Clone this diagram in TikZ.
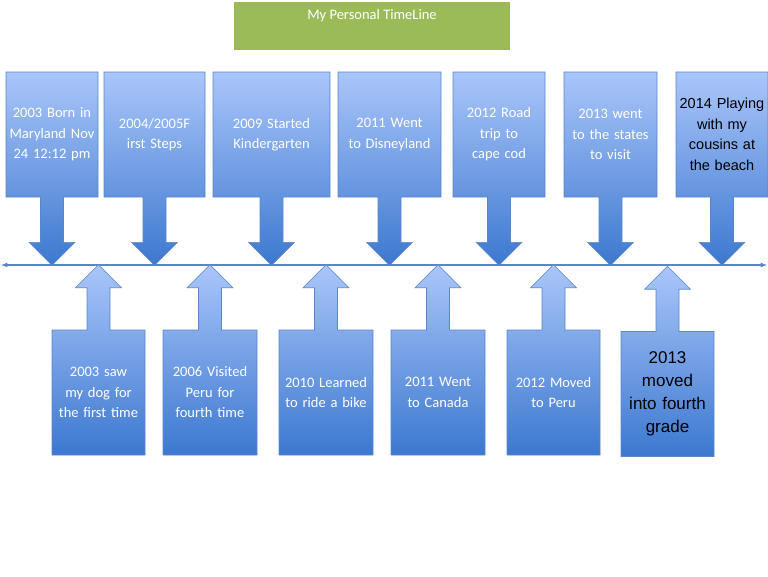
\documentclass[tikz,border=0pt]{standalone}
\usepackage{fontspec}
\setmainfont{Carlito}
\newfontfamily\arialfont{Liberation Sans}
\usetikzlibrary{shapes.arrows}
\definecolor{boxtop}{HTML}{AAC6FA}
\definecolor{boxbot}{HTML}{3C78CF}
\definecolor{boxline}{HTML}{5A86C8}
\definecolor{titlegreen}{HTML}{9BBB59}
\tikzset{
  event/.style={arrow box, draw=boxline, line width=0.6pt, top color=boxtop, bottom color=boxbot,
    text=white, align=center, inner sep=0pt, minimum width=#1, minimum height=125pt,
    text width=#1-6pt, font=\fontsize{14.5}{20.5}\selectfont,
    arrow box shaft width=23pt, arrow box head extend=11.5pt, arrow box head indent=0pt},
  down/.style={arrow box arrows={south:68pt}},
  up/.style={arrow box arrows={north:65pt}},
}
\begin{document}
\begin{tikzpicture}[x=1pt,y=-1pt]
\useasboundingbox (0,0) rectangle (768,576);
%% title
\node (title) [fill=titlegreen, minimum width=276pt, minimum height=48pt, inner sep=0pt] at (372,26) {};
\node (title_text) [text=white, font=\fontsize{14.5}{16}\selectfont] at (372,16) {My Personal TimeLine};
%% timeline
\coordinate (line_l) at (1,265);
\coordinate (line_r) at (767,265);
\draw [boxline, line width=1.2pt, <->, >=latex] (line_l) -- (line_r);
%% above the line
\node (ev_1) [event=92pt, down] at (52,134.5) {2003 Born in Maryland Nov 24 12:12 pm};
\node (ev_2) [event=101pt, down] at (154.5,134.5) {2004/2005F irst Steps};
\node (ev_3) [event=117pt, down] at (271.5,134.5) {2009 Started Kindergarten};
\node (ev_4) [event=103pt, down] at (389.5,134.5) {2011 Went to Disneyland};
\node (ev_5) [event=92pt, down] at (499,134.5) {2012 Road trip to cape cod};
\node (ev_6) [event=93pt, down] at (610.5,134.5) {2013 went to the states to visit};
\node (ev_7) [event=92pt, down, text=black, font=\arialfont\fontsize{14.5}{20.5}\selectfont] at (722,134.5) {2014 Playing with my cousins at the beach};
%% below the line
\node (ev_8) [event=93pt, up] at (98.5,392.5) {2003 saw my dog for the first time};
\node (ev_9) [event=94pt, up] at (210,392.5) {2006 Visited Peru for fourth time};
\node (ev_10) [event=94pt, up] at (326,392.5) {2010 Learned to ride a bike};
\node (ev_11) [event=94pt, up] at (438,392.5) {2011 Went to Canada};
\node (ev_12) [event=93pt, up] at (553.5,392.5) {2012 Moved to Peru};
\node (ev_13) [event=93pt, up, text=black, font=\arialfont\fontsize{17}{23}\selectfont] at (667.5,394) {2013 moved into fourth grade};
\end{tikzpicture}
\end{document}
